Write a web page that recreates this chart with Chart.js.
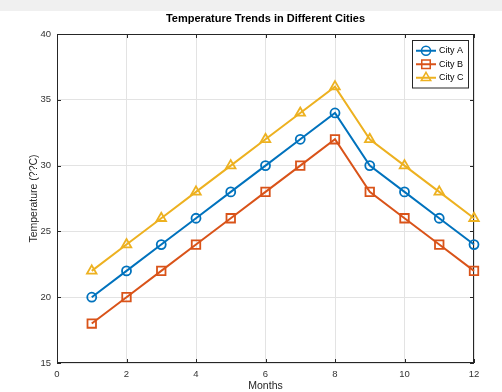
<!DOCTYPE html>
<html>
<head>
<meta charset="utf-8">
<script src="https://cdn.jsdelivr.net/npm/chart.js@4/dist/chart.umd.min.js"></script>
<style>
  html, body { margin: 0; padding: 0; background: #fff; }
  body { width: 502px; height: 392px; position: relative; overflow: hidden; }
  .band { position: absolute; left: 0; top: 0; width: 502px; height: 11px; background: #f0f0f0; }
  canvas { position: absolute; left: 0; top: 0; }
</style>
</head>
<body>
<div class="band"></div>
<canvas id="chart" width="502" height="392"></canvas>
<script>
// Datos
const meses = [1, 2, 3, 4, 5, 6, 7, 8, 9, 10, 11, 12];
const ciudadA = [20, 22, 24, 26, 28, 30, 32, 34, 30, 28, 26, 24];
const ciudadB = [18, 20, 22, 24, 26, 28, 30, 32, 28, 26, 24, 22];
const ciudadC = [22, 24, 26, 28, 30, 32, 34, 36, 32, 30, 28, 26];
const xTicks = [0, 2, 4, 6, 8, 10, 12];
const yTicks = [15, 20, 25, 30, 35, 40];
const titulo = 'Temperature Trends in Different Cities';

const series = [
  { label: 'City A', data: ciudadA, color: '#0072BD', style: 'circle', r: 4.5 },
  { label: 'City B', data: ciudadB, color: '#D95319', style: 'rect', r: 6 },
  { label: 'City C', data: ciudadC, color: '#EDB120', style: 'triangle', r: 5.5 },
];

const FONT = 'Liberation Sans, Arial, Helvetica, sans-serif';

// Caja del eje, marcas hacia adentro, título centrado sobre el área y leyenda estilo MATLAB
const marcoPlugin = {
  id: 'marco',
  beforeDatasetsDraw(chart) {
    const { ctx, chartArea: a, scales: { x, y } } = chart;
    ctx.save();
    ctx.strokeStyle = '#262626';
    ctx.lineWidth = 1;
    ctx.strokeRect(a.left + 0.5, a.top + 0.5, a.right - a.left - 1, a.bottom - a.top - 1);
    ctx.beginPath();
    xTicks.forEach((v) => {
      const px = Math.round(x.getPixelForValue(v)) + 0.5;
      ctx.moveTo(px, a.bottom); ctx.lineTo(px, a.bottom - 4);
      ctx.moveTo(px, a.top); ctx.lineTo(px, a.top + 4);
    });
    yTicks.forEach((v) => {
      const py = Math.round(y.getPixelForValue(v)) + 0.5;
      ctx.moveTo(a.left, py); ctx.lineTo(a.left + 4, py);
      ctx.moveTo(a.right, py); ctx.lineTo(a.right - 4, py);
    });
    ctx.stroke();

    // título
    ctx.fillStyle = '#000';
    ctx.font = 'bold 11px ' + FONT;
    ctx.textAlign = 'center';
    ctx.textBaseline = 'middle';
    ctx.fillText(titulo, (a.left + a.right) / 2, a.top - 15);
    ctx.restore();
  },
  afterDatasetsDraw(chart) {
    const { ctx, chartArea: a } = chart;
    ctx.save();
    // leyenda
    const w = 56, rowH = 13.5, h = series.length * rowH + 7;
    const lx = a.right - w - 6, ly = a.top + 6;
    ctx.fillStyle = '#fff';
    ctx.fillRect(lx, ly, w, h);
    ctx.strokeStyle = '#262626';
    ctx.lineWidth = 1;
    ctx.strokeRect(lx + 0.5, ly + 0.5, w, h);
    ctx.font = '9px ' + FONT;
    ctx.textAlign = 'left';
    ctx.textBaseline = 'middle';
    series.forEach((s, i) => {
      const cy = ly + 4 + rowH * (i + 0.5);
      ctx.strokeStyle = s.color;
      ctx.lineWidth = 2;
      ctx.beginPath();
      ctx.moveTo(lx + 4, cy); ctx.lineTo(lx + 24, cy);
      ctx.stroke();
      ctx.lineWidth = 1.5;
      ctx.fillStyle = 'rgba(0,0,0,0)';
      Chart.helpers.drawPoint(ctx, { pointStyle: s.style, radius: s.r, rotation: 0, borderWidth: 1.5 }, lx + 14, cy);
      ctx.fillStyle = '#000';
      ctx.fillText(s.label, lx + 27, cy);
    });
    ctx.restore();
  },
};

new Chart(document.getElementById('chart'), {
  type: 'line',
  data: {
    datasets: series.map((s) => ({
      label: s.label,
      data: meses.map((m, i) => ({ x: m, y: s.data[i] })),
      borderColor: s.color,
      backgroundColor: 'rgba(0,0,0,0)',
      borderWidth: 2,
      pointStyle: s.style,
      pointRadius: s.r,
      pointBorderWidth: 1.8,
      pointBorderColor: s.color,
      pointBackgroundColor: 'rgba(0,0,0,0)',
      tension: 0,
      clip: false,
    })),
  },
  options: {
    responsive: false,
    animation: false,
    layout: { padding: { left: 28, right: 28, top: 34, bottom: 0 } },
    plugins: {
      legend: { display: false },
      tooltip: { enabled: false },
      title: { display: false },
    },
    scales: {
      x: {
        type: 'linear', min: 0, max: 12,
        afterBuildTicks: (sc) => { sc.ticks = xTicks.map((v) => ({ value: v })); },
        afterFit: (sc) => { sc.height = 29; },
        grid: { color: '#e3e3e3', drawTicks: false },
        border: { display: false },
        ticks: { color: '#333', font: { family: FONT, size: 9.5 }, padding: 6 },
        title: { display: true, text: 'Months', color: '#262626', font: { family: FONT, size: 10.5 }, padding: 0 },
      },
      y: {
        type: 'linear', min: 15, max: 40,
        afterBuildTicks: (sc) => { sc.ticks = yTicks.map((v) => ({ value: v })); },
        afterFit: (sc) => { sc.width = 29; },
        grid: { color: '#e3e3e3', drawTicks: false },
        border: { display: false },
        ticks: { color: '#333', font: { family: FONT, size: 9.5 }, padding: 6 },
        title: { display: true, text: 'Temperature (??C)', color: '#262626', font: { family: FONT, size: 10.5 }, padding: 0 },
      },
    },
  },
  plugins: [marcoPlugin],
});
</script>
</body>
</html>
